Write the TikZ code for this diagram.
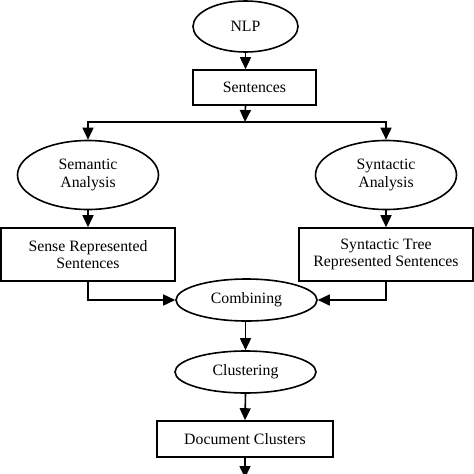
\documentclass[tikz,border=0pt]{standalone}
\usepackage{fontspec}
\setmainfont{Liberation Serif}
\usetikzlibrary{shapes.geometric,arrows.meta}
\begin{document}
\begin{tikzpicture}[x=1pt,y=-1pt,
  every node/.style={font=\fontsize{15.8}{17.5}\selectfont, align=center, inner sep=0pt, line width=1.6pt, draw},
  ell/.style={ellipse},
  box/.style={rectangle},
  arr/.style={line width=1.6pt, -{Triangle[length=12pt,width=11pt]}},
  ln/.style={line width=1.6pt}]
\useasboundingbox (0,0) rectangle (474,474);
\node[ell, minimum width=105pt, minimum height=51pt] (nlp) at (245.5,26.5) {NLP};
\node[box, minimum width=123pt, minimum height=35pt] (sent) at (254.5,87.5) {Sentences};
\node[ell, minimum width=141pt, minimum height=69pt] (sem) at (88,175) {Semantic\\Analysis};
\node[ell, minimum width=141pt, minimum height=69pt] (syn) at (386,175) {Syntactic\\Analysis};
\node[box, minimum width=174pt, minimum height=53pt] (sense) at (88,254.5) {Sense Represented\\Sentences};
\node[box, minimum width=174pt, minimum height=53pt] (tree) at (386,254.5) {Syntactic Tree\\Represented Sentences};
\node[ell, minimum width=141pt, minimum height=42pt] (comb) at (246.5,300) {Combining};
\node[ell, minimum width=141pt, minimum height=42pt] (clus) at (245.5,372) {Clustering};
\node[box, minimum width=176pt, minimum height=36pt] (doc) at (245,439) {Document Clusters};
\coordinate (br) at (245,122);
\coordinate (end) at (245,478);
\draw[arr] (nlp.south) -- (nlp.south |- sent.north);
\draw[arr] (nlp.south |- sent.south) -- (br);
\draw[arr] (br) -| (sem.north);
\draw[arr] (br) -| (syn.north);
\draw[arr] (sem.south) -- (sense.north);
\draw[arr] (syn.south) -- (tree.north);
\draw[arr] (sense.south) |- (comb.west);
\draw[arr] (tree.south) |- (comb.east);
\draw[arr] (comb.south -| clus) -- (clus.north);
\draw[arr] (clus.south) -- (doc.north);
\draw[arr] (doc.south) -- (end);
\end{tikzpicture}
\end{document}
